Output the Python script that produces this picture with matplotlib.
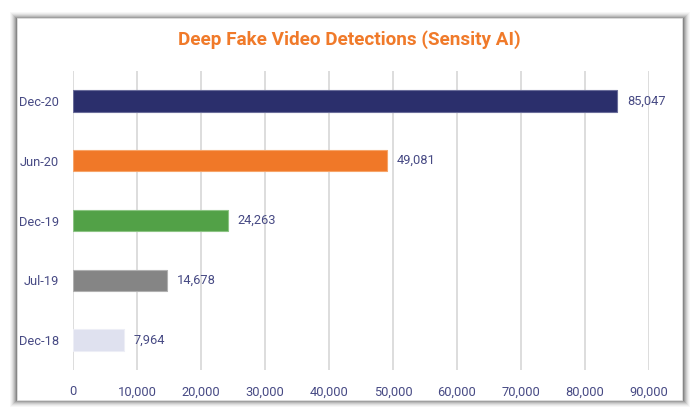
import matplotlib.pyplot as plt
from matplotlib.patches import Rectangle
from matplotlib.ticker import FuncFormatter

labels = ["Dec-20", "Jun-20", "Dec-19", "Jul-19", "Dec-18"]
values = [85047, 49081, 24263, 14678, 7964]
colors = ["#2B2F6C", "#F07828", "#52A147", "#858585", "#DFE1EF"]
edges = ["#6A6D9A", "#F6A469", "#8CC484", "#B0B0B0", "#EDEEF6"]
ticks = [0, 10000, 20000, 30000, 40000, 50000, 60000, 70000, 80000, 90000]

W, H = 698, 419
text_col = "#474A84"

fig = plt.figure(figsize=(W / 100, H / 100), dpi=100)
fig.patch.set_facecolor("white")

# card with a soft shadow
x0, y0, x1, y1 = 17, 18, 682, 400
for i, a in enumerate([0.03, 0.04, 0.06, 0.08, 0.10, 0.13, 0.16]):
    g = 8 - i
    fig.patches.append(Rectangle(((x0 - g + 1) / W, 1 - (y1 + g - 1) / H),
                                 (x1 - x0 + 2 * g - 1) / W, (y1 - y0 + 2 * g - 3) / H,
                                 transform=fig.transFigure, facecolor="black",
                                 edgecolor="none", alpha=a, zorder=0))
fig.patches.append(Rectangle((x0 / W, 1 - y1 / H), (x1 - x0) / W, (y1 - y0) / H,
                             transform=fig.transFigure, facecolor="white",
                             edgecolor="#E0E0E0", linewidth=0.6, zorder=1))

ax = fig.add_axes([73 / W, 1 - 370 / H, (649 - 73) / W, (370 - 71) / H])
ax.set_zorder(2)
ax.patch.set_alpha(0)

pos = list(range(len(labels)))
bars = ax.barh(pos, values, height=0.36, color=colors, edgecolor=edges,
               linewidth=0.8, zorder=3)
ax.set_ylim(len(labels) - 0.5, -0.5)
ax.set_xlim(0, 90000)
ax.set_yticks(pos)
ax.set_yticklabels(labels)
ax.set_xticks(ticks)
ax.xaxis.set_major_formatter(FuncFormatter(lambda v, p: f"{int(v):,}"))
ax.grid(axis="x", color="#DADADA", linewidth=1.3, zorder=0)
ax.set_axisbelow(True)
for s in ax.spines.values():
    s.set_visible(False)
ax.tick_params(axis="both", length=0, labelcolor=text_col, labelsize=9.3)
ax.tick_params(axis="x", pad=11)
ax.tick_params(axis="y", pad=10)
for lab in ax.get_xticklabels() + ax.get_yticklabels():
    lab.set_fontfamily("Roboto")

for b, v in zip(bars, values):
    ax.text(v + 1500, b.get_y() + b.get_height() / 2, f"{v:,}", va="center",
            ha="left", color=text_col, fontsize=9.3, family="Roboto")

fig.text(0.5, 1 - 40 / H, "Deep Fake Video Detections (Sensity AI)", ha="center",
         va="center", color="#F07A2A", fontsize=13.6, fontweight="bold",
         family=["Liberation Sans Narrow", "Roboto"])

fig.savefig("out.png", dpi=100)
